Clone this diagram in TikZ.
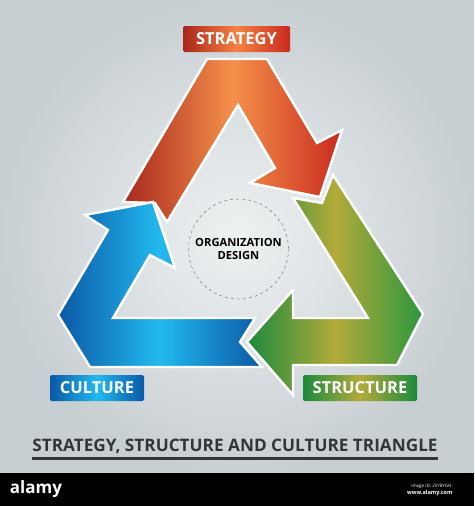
\documentclass[tikz,border=0pt]{standalone}
\usepackage{fontspec}
\setmainfont{Open Sans}
\usetikzlibrary{positioning}

\definecolor{bgin}{HTML}{EEF1F2}
\definecolor{bgout}{HTML}{C8CFD3}
\definecolor{redD}{HTML}{A8261C}
\definecolor{redR}{HTML}{C92A1E}
\definecolor{orangeM}{HTML}{F4904A}
\definecolor{greenD}{HTML}{1A8A3C}
\definecolor{greenR}{HTML}{2C973E}
\definecolor{oliveM}{HTML}{B2AA3A}
\definecolor{blueD}{HTML}{0B58A6}
\definecolor{blueM}{HTML}{22B9EE}
\definecolor{inkgray}{HTML}{333638}

\begin{document}
\begin{tikzpicture}[x=1pt, y=-1pt,
		arrowpart/.style={draw=white, line width=2.4pt, line join=miter},
		tagbox/.style={rounded corners=1.5pt, minimum height=26pt, inner sep=0pt, text=white,
			font=\bfseries\fontsize{16.5}{16.5}\selectfont},
		centrename/.style={circle, draw=gray!80!black, dashed, thin, minimum size=100pt, align=center,
			font=\bfseries\fontsize{11.2}{13.5}\selectfont}]
		\useasboundingbox (0,0) rectangle (474,506);
		\shade[inner color=bgin, outer color=bgout] (0,0) rectangle (474,473);

		\filldraw[arrowpart, left color=redD, right color=redR, middle color=orangeM]
			(123,202) -- (207,59) -- (267,59) -- (317,143) -- (342,130) -- (320,197) -- (250,183)
			-- (275,168) -- (238,105) -- (167,222) -- (155,203) -- cycle;
		\filldraw[arrowpart, left color=greenD, right color=greenR, middle color=oliveM]
			(293,198) -- (322,203) -- (333,175) -- (423,314) -- (397,365) -- (293,365) -- (293,395)
			-- (247,342) -- (293,290) -- (293,318) -- (368,318) -- cycle;
		\filldraw[arrowpart, left color=blueD, right color=blueD, middle color=blueM]
			(262,367) -- (90,367) -- (58,315) -- (108,230) -- (85,215) -- (153,202) -- (175,268)
			-- (150,255) -- (113,318) -- (255,318) -- (240,342) -- cycle;

		\node[centrename] (design) at (238.5,249) {ORGANIZATION\\DESIGN};

		\node[tagbox, minimum width=107pt, left color=redD, right color=redR, middle color=orangeM!90!red]
			(strategy) at (236.5,39) {STRATEGY};
		\node[tagbox, minimum width=94pt, left color=blueD, right color=blueD, middle color=blueM]
			(culture) at (97,388) {CULTURE};
		\node[tagbox, minimum width=114pt, left color=greenD, right color=greenD, middle color=oliveM]
			(structure) at (360,388) {STRUCTURE};

		\node[text=inkgray, font=\bfseries\fontsize{17.2}{17.2}\selectfont] (title) at (235,446)
			{STRATEGY, STRUCTURE AND CULTURE TRIANGLE};
		\draw[inkgray, line width=3pt] (32,458) -- (438,458);

		\fill[black] (0,473) rectangle (474,506);
		\node[text=white, font=\bfseries\fontsize{17}{17}\selectfont] (brand) at (36,489) {alamy};
		\node[text=white, font=\fontsize{4.5}{5}\selectfont, anchor=east] (imageid) at (455,486) {Image ID: 2SY8YGH};
		\node[text=white, font=\bfseries\fontsize{5.5}{6}\selectfont, anchor=east] (site) at (456,493) {www.alamy.com};
	\end{tikzpicture}
\end{document}
